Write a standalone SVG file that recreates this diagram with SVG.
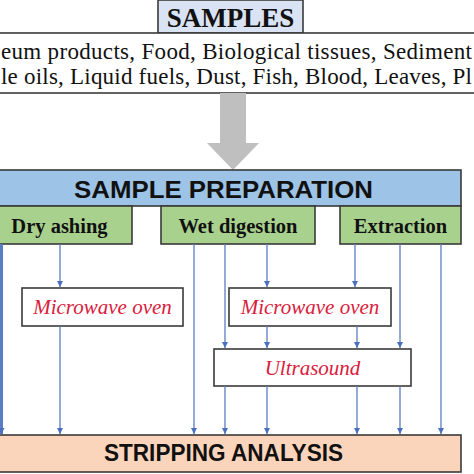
<svg xmlns="http://www.w3.org/2000/svg" width="474" height="474" viewBox="0 0 474 474">
<defs>
<marker id="ah" viewBox="0 0 10 10" refX="10" refY="5" markerWidth="6" markerHeight="6" orient="auto" markerUnits="userSpaceOnUse">
<path d="M0,0 L10,5 L0,10 z" fill="#4a6fbd"/>
</marker>
<style>
.box{stroke:#3a3a3a;stroke-width:1.6}
.serif{font-family:"Liberation Serif","Times New Roman",serif}
.sans{font-family:"Liberation Sans",Arial,sans-serif}
.green{fill:#a9d18e}
.lbl{font-size:20.5px;font-weight:bold;fill:#111}
.red{font-size:21px;font-style:italic;fill:#d9203c}
.con line{stroke:#5b7cc4;stroke-width:1.3;marker-end:url(#ah)}
</style>
</defs>
<rect width="474" height="474" fill="#ffffff"/>

<g id="samples">
<rect class="box" x="158" y="0" width="145" height="33" fill="#dae3f3"/>
<text class="serif" x="230.5" y="27" text-anchor="middle" font-size="27" font-weight="bold" fill="#111">SAMPLES</text>
</g>

<g id="samples-list">
<rect class="box" x="-5" y="33" width="485" height="60" fill="#ffffff"/>
<text class="serif" x="1" y="59" font-size="23" fill="#111" textLength="471" lengthAdjust="spacing">eum products, Food, Biological tissues, Sediment</text>
<text class="serif" x="1" y="84" font-size="23" fill="#111" textLength="471" lengthAdjust="spacing">le oils, Liquid fuels, Dust, Fish, Blood, Leaves, Pl</text>
</g>

<g id="big-arrow">
<path d="M220,93 L246,93 L246,143 L259,143 L233,170 L207,143 L220,143 z" fill="#bfbfbf"/>
</g>

<g id="sample-preparation">
<rect class="box" x="-5" y="170" width="466" height="36" fill="#9dc3e6"/>
<text class="sans" x="74" y="198" font-size="24" font-weight="bold" fill="#111" textLength="299" lengthAdjust="spacingAndGlyphs">SAMPLE PREPARATION</text>
</g>

<g id="dry-ashing">
<rect class="box green" x="-5" y="206" width="137" height="38"/>
<text class="serif lbl" x="59.5" y="233" text-anchor="middle">Dry ashing</text>
</g>
<g id="wet-digestion">
<rect class="box green" x="161" y="206" width="154" height="38"/>
<text class="serif lbl" x="238" y="233" text-anchor="middle">Wet digestion</text>
</g>
<g id="extraction">
<rect class="box green" x="340" y="206" width="121" height="38"/>
<text class="serif lbl" x="400.5" y="233" text-anchor="middle">Extraction</text>
</g>

<g id="microwave-left">
<rect class="box" x="22" y="288" width="161" height="38" fill="#ffffff"/>
<text class="serif red" x="102.5" y="314" text-anchor="middle">Microwave oven</text>
</g>
<g id="microwave-right">
<rect class="box" x="229" y="288" width="162" height="38" fill="#ffffff"/>
<text class="serif red" x="310" y="314" text-anchor="middle">Microwave oven</text>
</g>
<g id="ultrasound">
<rect class="box" x="214" y="349" width="197" height="37" fill="#ffffff"/>
<text class="serif red" x="312.5" y="375" text-anchor="middle">Ultrasound</text>
</g>

<g id="stripping-analysis">
<rect class="box" x="-5" y="435" width="466" height="37" fill="#fbd5bb"/>
<text class="sans" x="104" y="461" font-size="24" font-weight="bold" fill="#111" textLength="239" lengthAdjust="spacingAndGlyphs">STRIPPING ANALYSIS</text>
</g>

<g id="connectors" class="con">
<line x1="1.5" y1="244" x2="1.5" y2="434" style="stroke-width:3"/>
<line x1="60" y1="244" x2="60" y2="287"/>
<line x1="60" y1="326" x2="60" y2="434"/>
<line x1="194" y1="244" x2="194" y2="434"/>
<line x1="225" y1="244" x2="225" y2="348"/>
<line x1="225" y1="386" x2="225" y2="434"/>
<line x1="267" y1="244" x2="267" y2="287"/>
<line x1="267" y1="326" x2="267" y2="348"/>
<line x1="267" y1="386" x2="267" y2="434"/>
<line x1="355" y1="244" x2="355" y2="287"/>
<line x1="357" y1="326" x2="357" y2="348"/>
<line x1="357" y1="386" x2="357" y2="434"/>
<line x1="400" y1="244" x2="400" y2="348"/>
<line x1="400" y1="386" x2="400" y2="434"/>
<line x1="441" y1="244" x2="441" y2="434"/>
</g>
</svg>
